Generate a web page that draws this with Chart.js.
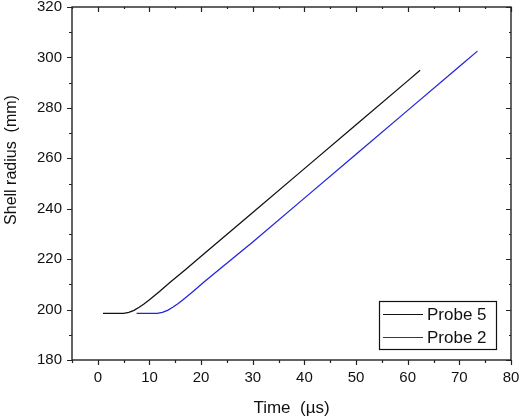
<!DOCTYPE html>
<html>
<head>
<meta charset="utf-8">
<script src="https://cdn.jsdelivr.net/npm/chart.js@4.4.1/dist/chart.umd.min.js"></script>
<style>
  html, body { margin: 0; padding: 0; background: #fff; }
  #wrap { width: 520px; height: 419px; }
</style>
</head>
<body>
<div id="wrap"><canvas id="chart" width="520" height="419"></canvas></div>
<script>
// valores (tiempo en us, radio en mm)
const probe5T = [1, 5, 6, 7, 8, 9, 10, 11, 12, 14, 17, 20, 30, 40, 50, 60, 62.4];
const probe5R = [198.5, 198.5, 198.9, 199.7, 200.9, 202.3, 203.9, 205.6, 207.3, 210.8, 215.9, 221.1, 238.5, 255.9, 273.3, 290.7, 294.9];
const probe2T = [7.5, 11.5, 12.5, 13.5, 14.5, 15.5, 16.5, 17.5, 18.5, 20.5, 23.5, 30, 40, 50, 60, 70, 73.5];
const probe2R = [198.5, 198.5, 198.9, 199.7, 200.9, 202.3, 203.9, 205.6, 207.3, 210.8, 215.9, 226.8, 244.2, 261.6, 279, 296.4, 302.5];

const xTicks = [0, 10, 20, 30, 40, 50, 60, 70, 80];
const yTicks = [180, 200, 220, 240, 260, 280, 300, 320];
const xMinorStep = 5;
const yMinorStep = 10;

const seriesLabels = ['Probe 5', 'Probe 2'];
const seriesColors = ['#111111', '#2424dc'];

const AXIS_COLOR = '#222';
const FONT = 'Liberation Sans, Arial, sans-serif';

function toPoints(ts, rs) {
    return ts.map((t, i) => ({ x: t, y: rs[i] }));
}

// ===== marco, ticks, titulos y leyenda =====
const framePlugin = {
    id: 'frame',
    afterDraw(chart) {
        const { ctx, chartArea: a, scales } = chart;
        const xs = scales.x, ys = scales.y;
        ctx.save();
        ctx.strokeStyle = AXIS_COLOR;
        ctx.lineWidth = 1.4;
        ctx.strokeRect(a.left, a.top, a.right - a.left, a.bottom - a.top);

        ctx.lineWidth = 1.2;
        ctx.beginPath();
        // eje x: abajo hacia fuera, arriba hacia dentro
        for (let v = xs.min; v <= xs.max + 1e-9; v += xMinorStep) {
            const major = xTicks.includes(v);
            const px = Math.round(xs.getPixelForValue(v)) + 0.5;
            const lb = major ? 5 : 3;
            const lt = major ? 5 : 2;
            ctx.moveTo(px, a.bottom); ctx.lineTo(px, a.bottom + lb);
            ctx.moveTo(px, a.top); ctx.lineTo(px, a.top + lt);
        }
        // eje y: izquierda hacia fuera, derecha hacia dentro
        for (let v = ys.min; v <= ys.max + 1e-9; v += yMinorStep) {
            const major = yTicks.includes(v);
            const py = Math.round(ys.getPixelForValue(v)) + 0.5;
            const ll = major ? 5 : 3;
            const lr = major ? 5 : 2;
            ctx.moveTo(a.left, py); ctx.lineTo(a.left - ll, py);
            ctx.moveTo(a.right, py); ctx.lineTo(a.right - lr, py);
        }
        ctx.stroke();

        // titulos de ejes
        ctx.fillStyle = '#111';
        ctx.textAlign = 'center';
        ctx.textBaseline = 'middle';
        ctx.font = '17px ' + FONT;
        ctx.fillText('Time  (\u00b5s)', (a.left + a.right) / 2, 408);
        ctx.font = '16px ' + FONT;
        ctx.save();
        ctx.translate(12, 160);
        ctx.rotate(-Math.PI / 2);
        ctx.fillText('Shell radius  (mm)', 0, 0);
        ctx.restore();

        // leyenda
        const bx = 379, by = 301, bw = 117, bh = 48;
        ctx.fillStyle = '#fff';
        ctx.fillRect(bx, by, bw, bh);
        ctx.strokeStyle = '#111';
        ctx.lineWidth = 1.2;
        ctx.strokeRect(bx + 0.5, by + 0.5, bw, bh);
        ctx.font = '17px ' + FONT;
        ctx.textAlign = 'left';
        chart.data.datasets.forEach((ds, i) => {
            const cy = by + 13 + i * 23;
            ctx.strokeStyle = ds.borderColor;
            ctx.lineWidth = 1.2;
            ctx.beginPath();
            ctx.moveTo(bx + 4, cy + 0.5);
            ctx.lineTo(bx + 44, cy + 0.5);
            ctx.stroke();
            ctx.fillStyle = '#111';
            ctx.fillText(ds.label, bx + 48, cy + 1);
        });
        ctx.restore();
    }
};

new Chart(document.getElementById('chart'), {
    type: 'line',
    data: {
        datasets: [
            {
                label: seriesLabels[0],
                data: toPoints(probe5T, probe5R),
                borderColor: seriesColors[0],
                borderWidth: 1.3,
                pointRadius: 0,
                tension: 0,
                fill: false
            },
            {
                label: seriesLabels[1],
                data: toPoints(probe2T, probe2R),
                borderColor: seriesColors[1],
                borderWidth: 1.3,
                pointRadius: 0,
                tension: 0,
                fill: false
            }
        ]
    },
    options: {
        responsive: false,
        animation: false,
        devicePixelRatio: 1,
        layout: { padding: { top: 7, right: 9, left: 0, bottom: 0 } },
        plugins: {
            legend: { display: false },
            tooltip: { enabled: false }
        },
        scales: {
            x: {
                type: 'linear',
                min: -5,
                max: 80,
                afterBuildTicks: s => { s.ticks = xTicks.map(v => ({ value: v })); },
                afterFit: s => { s.height = 59; s.paddingLeft = 0; s.paddingRight = 0; },
                grid: { display: false, drawTicks: false },
                border: { display: false },
                ticks: { color: '#111', font: { family: FONT, size: 15 }, padding: 9, maxRotation: 0 }
            },
            y: {
                type: 'linear',
                min: 180,
                max: 320,
                afterBuildTicks: s => { s.ticks = yTicks.map(v => ({ value: v })); },
                afterFit: s => { s.width = 72; s.paddingTop = 0; s.paddingBottom = 0; },
                grid: { display: false, drawTicks: false },
                border: { display: false },
                ticks: { color: '#111', font: { family: FONT, size: 15 }, padding: 10 }
            }
        }
    },
    plugins: [framePlugin]
});
</script>
</body>
</html>
